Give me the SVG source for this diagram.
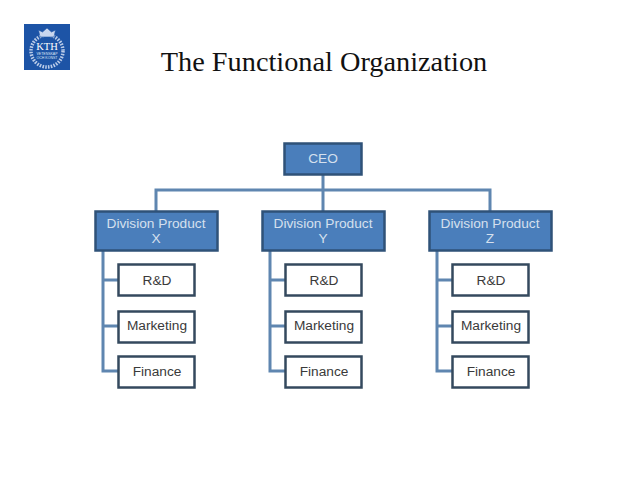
<svg xmlns="http://www.w3.org/2000/svg" width="638" height="479" viewBox="0 0 638 479">
<style>
.sans{font-family:"Liberation Sans",Arial,sans-serif}
.div rect,.ceo rect{fill:#4a7ebb;stroke:#2f5278;stroke-width:2.5}
.div text,.ceo text{fill:#d5e0ee;font-size:13.7px;text-anchor:middle}
.sub rect{fill:#fff;stroke:#34495e;stroke-width:2.5}
.sub text{fill:#3a3a3a;font-size:13.7px;text-anchor:middle}
#connectors path{fill:none;stroke:#5f86b0;stroke-width:3}
</style>
<rect width="638" height="479" fill="#fff"/>
<g id="logo">
<rect x="24" y="24" width="46" height="46" fill="#1d54a6"/>
<circle cx="47" cy="51" r="16" fill="none" stroke="#b9cbe8" stroke-width="3.5" stroke-dasharray="1.6 1.2"/>
<path d="M40 37l-1.500-7 4 2 4.500-4 4.500 4 4-2-1.500 7z" fill="#c9d6ee" stroke="#1d54a6" stroke-width=".6"/>
<text x="47" y="50" font-family="'Liberation Serif',serif" font-size="10.500" fill="#fff" text-anchor="middle">KTH</text>
<text x="47" y="54.500" class="sans" font-size="3.500" fill="#dfe7f5" text-anchor="middle">VETENSKAP</text>
<text x="47" y="58.500" class="sans" font-size="3.500" fill="#dfe7f5" text-anchor="middle">OCH KONST</text>
</g>
<text id="title" x="324" y="71" font-family="'Liberation Serif','Times New Roman',serif" font-size="28.300" fill="#111" text-anchor="middle">The Functional Organization</text>
<g id="connectors">
<path d="M323 174V211M156 211V190H490V211"/>
<path d="M103 251V371H118M103 280H118M103 326H118"/>
<path d="M270 251V371H285M270 280H285M270 326H285"/>
<path d="M437 251V371H452M437 280H452M437 326H452"/>
</g>
<g id="ceo" class="ceo"><rect x="284.500" y="143.500" width="77" height="31"/><text class="sans" x="323" y="163">CEO</text></g>
<g id="div-x" class="div"><rect x="95.500" y="211.500" width="122" height="39"/><text class="sans" x="156" y="228">Division Product</text><text class="sans" x="156" y="243">X</text></g>
<g id="div-y" class="div"><rect x="262.500" y="211.500" width="122" height="39"/><text class="sans" x="323" y="228">Division Product</text><text class="sans" x="323" y="243">Y</text></g>
<g id="div-z" class="div"><rect x="429.500" y="211.500" width="122" height="39"/><text class="sans" x="490" y="228">Division Product</text><text class="sans" x="490" y="243">Z</text></g>
<g id="x-rd" class="sub"><rect x="118.500" y="264.500" width="76" height="31"/><text class="sans" x="157" y="285">R&amp;D</text></g>
<g id="x-marketing" class="sub"><rect x="118.500" y="311.500" width="76" height="31"/><text class="sans" x="157" y="330">Marketing</text></g>
<g id="x-finance" class="sub"><rect x="118.500" y="356.500" width="76" height="31"/><text class="sans" x="157" y="376">Finance</text></g>
<g id="y-rd" class="sub"><rect x="285.500" y="264.500" width="76" height="31"/><text class="sans" x="324" y="285">R&amp;D</text></g>
<g id="y-marketing" class="sub"><rect x="285.500" y="311.500" width="76" height="31"/><text class="sans" x="324" y="330">Marketing</text></g>
<g id="y-finance" class="sub"><rect x="285.500" y="356.500" width="76" height="31"/><text class="sans" x="324" y="376">Finance</text></g>
<g id="z-rd" class="sub"><rect x="452.500" y="264.500" width="76" height="31"/><text class="sans" x="491" y="285">R&amp;D</text></g>
<g id="z-marketing" class="sub"><rect x="452.500" y="311.500" width="76" height="31"/><text class="sans" x="491" y="330">Marketing</text></g>
<g id="z-finance" class="sub"><rect x="452.500" y="356.500" width="76" height="31"/><text class="sans" x="491" y="376">Finance</text></g>
</svg>
